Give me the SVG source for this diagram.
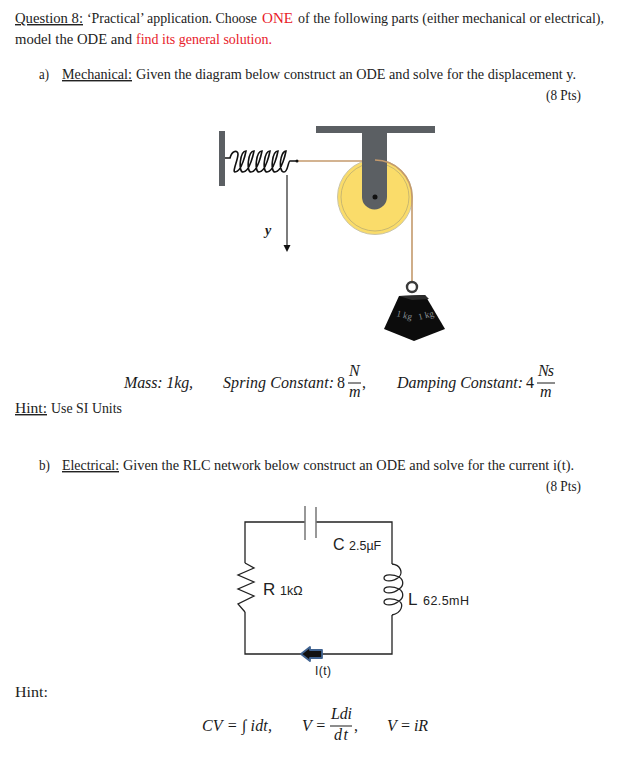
<svg xmlns="http://www.w3.org/2000/svg" width="620" height="776" viewBox="0 0 620 776">
<style>
.t{font-family:"Liberation Serif",serif;font-size:14.2px;fill:#222}
.u{text-decoration:underline}
.r{fill:#e8202a}
.m{font-family:"Liberation Serif",serif;font-size:16px;font-style:italic;fill:#1a1a1a}
.mn{font-family:"Liberation Serif",serif;font-size:16px;fill:#1a1a1a}
.s{font-family:"Liberation Sans",sans-serif;fill:#222}
.w{fill:none;stroke:#222;stroke-width:1.3}
.rope{fill:none;stroke:#c49a6c;stroke-width:1.6}
.bar{fill:#5b5f63}
.frac{stroke:#1a1a1a;stroke-width:1}
</style>
<rect width="620" height="776" fill="#fff"/>
<g id="question-text">
<text class="t u" x="15" y="23" textLength="68" lengthAdjust="spacingAndGlyphs">Question 8:</text>
<text class="t" x="87" y="23" textLength="170" lengthAdjust="spacingAndGlyphs">‘Practical’ application. Choose</text>
<text class="t r" x="262" y="23" textLength="31" lengthAdjust="spacingAndGlyphs">ONE</text>
<text class="t" x="298" y="23" textLength="306" lengthAdjust="spacingAndGlyphs">of the following parts (either mechanical or electrical),</text>
<text class="t" x="15" y="44" textLength="117" lengthAdjust="spacingAndGlyphs">model the ODE and</text>
<text class="t r" x="136" y="44" textLength="136" lengthAdjust="spacingAndGlyphs">find its general solution.</text>
<text class="t" x="39" y="79" textLength="10" lengthAdjust="spacingAndGlyphs">a)</text>
<text class="t u" x="62" y="79" textLength="70" lengthAdjust="spacingAndGlyphs">Mechanical:</text>
<text class="t" x="136" y="79" textLength="440" lengthAdjust="spacingAndGlyphs">Given the diagram below construct an ODE and solve for the displacement y.</text>
<text class="t" x="546" y="100" textLength="35" lengthAdjust="spacingAndGlyphs">(8 Pts)</text>
</g>
<g id="mechanism">
<rect class="bar" x="316" y="126" width="119" height="7"/>
<rect class="bar" x="219" y="131" width="6" height="55"/>
<circle cx="375" cy="197" r="37.5" fill="#fadc6a" stroke="#c9c4a8" stroke-width="1"/>
<circle cx="375" cy="197" r="34" fill="none" stroke="#c9b870" stroke-width="1"/>
<path class="bar" d="M362,133H387V197A12.5,12.5 0 0 1 362,197Z"/>
<circle cx="375" cy="197" r="2.5" fill="#111"/>
<path class="rope" d="M298,161H362"/>
<path class="rope" d="M375,160A37,37 0 0 1 412,197V282"/>
<path d="M225,158H230C232,150 238,150 238,154C238,160 232,172 235,172C242,172 246,151 246,151C240,151 238,172 243,172C250,172 254,151 254,151C248,151 246,172 251,172C258,172 262,151 262,151C256,151 254,172 259,172C266,172 270,151 270,151C264,151 262,172 267,172C274,172 278,151 278,151C272,151 270,172 275,172C282,172 286,151 286,151C280,151 278,172 284,172C288,172 288,161 290,161H297" fill="none" stroke="#111" stroke-width="1.6"/>
<circle cx="297" cy="161" r="1.5" fill="#111"/>
<g id="displacement-arrow">
<path d="M287,175V247" stroke="#111" stroke-width="1.1"/>
<path d="M283.5,245H290.5L287,252Z" fill="#111"/>
<text x="265" y="235" style="font-family:'Liberation Serif',serif;font-size:14px;font-style:italic;font-weight:bold" fill="#1a1a1a">y</text>
</g>
<g id="weight">
<circle cx="412" cy="287" r="5" fill="none" stroke="#3a3a3a" stroke-width="2.4"/>
<path d="M399,296L425,295L445,329L414,341L384,329Z" fill="#0c0c0c"/>
<path d="M399,296L425,295L429,299L412,300Z" fill="#2b2b2b"/>
<text transform="translate(396,316) rotate(14)" style="font-family:'Liberation Serif',serif;font-size:9px" fill="#8a9094">1 kg</text>
<text transform="translate(419,320) rotate(-14)" style="font-family:'Liberation Serif',serif;font-size:9px" fill="#8a9094">1 kg</text>
</g>
</g>
<g id="parameters">
<text class="m" x="124" y="388" textLength="69" lengthAdjust="spacing">Mass: 1kg,</text>
<text class="m" x="223" y="388" textLength="111" lengthAdjust="spacing">Spring Constant:</text>
<text class="mn" x="337" y="388">8</text>
<text class="m" x="349" y="376">N</text>
<path class="frac" d="M348,383H361"/>
<text class="m" x="349" y="397">m</text>
<text class="mn" x="362" y="388">,</text>
<text class="m" x="397" y="388" textLength="126" lengthAdjust="spacing">Damping Constant:</text>
<text class="mn" x="526" y="388">4</text>
<text class="m" x="538" y="376" textLength="16" lengthAdjust="spacing">Ns</text>
<path class="frac" d="M537,383H555"/>
<text class="m" x="540" y="397">m</text>
</g>
<g id="hint-a">
<text class="t u" x="15" y="413" textLength="32" lengthAdjust="spacingAndGlyphs">Hint:</text>
<text class="t" x="51" y="413" textLength="71" lengthAdjust="spacingAndGlyphs">Use SI Units</text>
</g>
<g id="electrical-text">
<text class="t" x="39" y="470" textLength="11" lengthAdjust="spacingAndGlyphs">b)</text>
<text class="t u" x="62" y="470" textLength="57" lengthAdjust="spacingAndGlyphs">Electrical:</text>
<text class="t" x="123" y="470" textLength="451" lengthAdjust="spacingAndGlyphs">Given the RLC network below construct an ODE and solve for the current i(t).</text>
<text class="t" x="546" y="491" textLength="35" lengthAdjust="spacingAndGlyphs">(8 Pts)</text>
</g>
<g id="connectors">
<path class="w" d="M305,522H245V563"/>
<path class="w" d="M245,612V654H392V615"/>
<path class="w" d="M392,564V522H316"/>
</g>
<g id="capacitor">
<path d="M305,506V540M316,507V538" stroke="#777" stroke-width="1.5" fill="none"/>
<text class="s" x="333" y="550" font-size="16">C</text>
<text class="s" x="349" y="550" font-size="12.5">2.5µF</text>
</g>
<g id="resistor">
<path class="w" d="M245,563L254,568L238,575L254,582L238,589L254,596L238,604L245,612"/>
<text class="s" x="263" y="595" font-size="17">R</text>
<text class="s" x="280" y="595" font-size="12.5">1kΩ</text>
</g>
<g id="inductor">
<path class="w" d="M392,564C401,565 403,573 399,577C393,582 384,582 384,578C384,574 393,574 399,577C404,580 404,586 399,589C393,594 384,594 384,590C384,586 393,586 399,589C404,592 404,598 399,601C393,606 384,606 384,602C384,598 393,598 399,601C404,604 402,613 392,615"/>
<text class="s" x="408" y="605" font-size="17">L</text>
<text class="s" x="423" y="605" font-size="12.5" textLength="46">62.5mH</text>
</g>
<g id="current-arrow">
<path d="M301,654L310,647V650H322V658H310V661Z" fill="#111" stroke="#3f6290" stroke-width="1.8" stroke-linejoin="round"/>
<text class="s" x="315" y="675" font-size="12" textLength="16">I(t)</text>
</g>
<g id="hint-b">
<text class="t" x="15" y="697" textLength="33" lengthAdjust="spacingAndGlyphs">Hint:</text>
<text class="m" x="202" y="731" textLength="70" lengthAdjust="spacing">CV = ∫ idt,</text>
<text class="m" x="302" y="731" textLength="24" lengthAdjust="spacing">V =</text>
<text class="m" x="331" y="719" textLength="21" lengthAdjust="spacing">Ldi</text>
<path class="frac" d="M330,726H352"/>
<text class="m" x="334" y="740" textLength="14" lengthAdjust="spacing">dt</text>
<text class="mn" x="354" y="731">,</text>
<text class="m" x="387" y="731" textLength="41" lengthAdjust="spacing">V = iR</text>
</g>
</svg>
